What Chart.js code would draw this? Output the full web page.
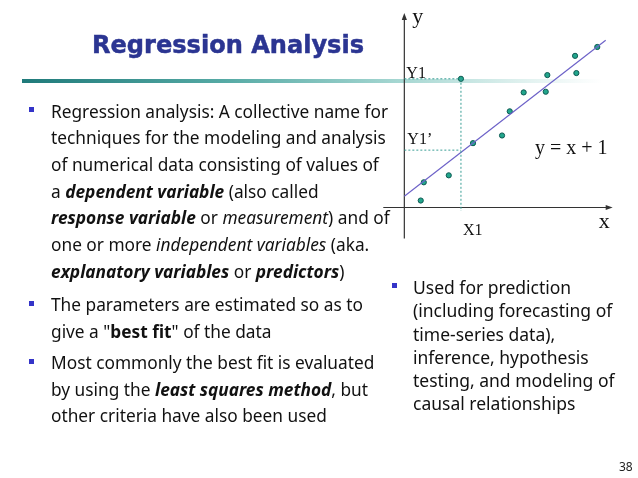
<!DOCTYPE html>
<html>
<head>
<meta charset="utf-8">
<script src="https://cdn.jsdelivr.net/npm/chart.js@4"></script>
<style>
  html, body { margin:0; padding:0; background:#fff; }
  #page { position:relative; width:638px; height:478px; overflow:hidden; background:#fff; }
  #bar { position:absolute; left:22px; top:79px; width:580px; height:3.5px;
         background:linear-gradient(to right, #1f7a7a 0%, #56aaa5 35%, #a6d7d2 65%, #e4f3f1 88%, #ffffff 100%); }
  #chart { position:absolute; left:0; top:0; }
  #title { position:absolute; left:92px; top:32px; font-family:"DejaVu Sans", sans-serif; font-weight:bold;
           font-size:25px; line-height:25px; color:#2b3592; white-space:nowrap; transform-origin:0 0;
           -webkit-text-stroke:0.5px #2b3592; }
  .txt { position:absolute; font-family:"Noto Sans", sans-serif; font-size:17.3px; color:#111; white-space:nowrap; }
  .left { left:51px; line-height:26.7px; }
  .right { left:413px; line-height:23.3px; font-size:17.5px; }
  .bul { position:absolute; width:5px; height:5px; background:#3434c8; }
  #pg { position:absolute; left:619px; top:458px; font-family:"Noto Sans", sans-serif; font-size:12px; color:#222; }
</style>
</head>
<body>
<div id="page">
  <div id="bar"></div>
  <canvas id="chart" width="638" height="478"></canvas>
  <div id="title">Regression Analysis</div>

  <div class="bul" style="left:29px;top:107px"></div>
  <div class="txt left" style="top:98.5px">Regression analysis: A collective name for<br>techniques for the modeling and analysis<br>of numerical data consisting of values of<br>a <b><i>dependent variable</i></b> (also called<br><b><i>response variable</i></b> or <i>measurement</i>) and of<br>one or more <i>independent variables</i> (aka.<br><b><i>explanatory variables</i></b> or <b><i>predictors</i></b>)</div>

  <div class="bul" style="left:29px;top:301px"></div>
  <div class="txt left" style="top:292px">The parameters are estimated so as to<br>give a "<b>best fit</b>" of the data</div>

  <div class="bul" style="left:29px;top:359px"></div>
  <div class="txt left" style="top:350px">Most commonly the best fit is evaluated<br>by using the <b><i>least squares method</i></b>, but<br>other criteria have also been used</div>

  <div class="bul" style="left:392px;top:283px"></div>
  <div class="txt right" style="top:276px">Used for prediction<br>(including forecasting of<br>time-series data),<br>inference, hypothesis<br>testing, and modeling of<br>causal relationships</div>

  <div id="pg">38</div>
</div>
<script>
// ---- data ----
const pointX = [1.13, 1.34, 3.06, 3.90, 4.73, 6.73, 7.26, 8.22, 9.74, 9.85, 11.85, 11.76, 13.29];
const pointY = [0.62, 2.24, 2.86, 11.44, 5.72, 6.40, 8.55, 10.23, 10.29, 11.77, 11.95, 13.48, 14.27];
const fitX = [0, 13.87];
const fitY = [1, 14.87];
const X1 = 3.90;
const Y1 = 11.44;
const Y1p = 5.10;
const axisXRange = [-1.45, 14.35];
const axisYRange = [-2.75, 17.3];
const labels = { y: "y", x: "x", Y1: "Y1", Y1p: "Y1’", X1: "X1", eq: "y = x + 1" };

// fit title width
(function(){
  const t = document.getElementById('title');
  const w = t.getBoundingClientRect().width;
  t.style.transform = 'scaleX(' + (272 / w) + ')';
})();

const zip = (xs, ys) => xs.map((x, i) => ({ x: x, y: ys[i] }));

const axesPlugin = {
  id: 'axesPlugin',
  beforeDatasetsDraw(chart) {
    const ctx = chart.ctx, xs = chart.scales.x, ys = chart.scales.y;
    const x0 = xs.getPixelForValue(0), y0 = ys.getPixelForValue(0);
    const xa = xs.getPixelForValue(axisXRange[0]), xb = xs.getPixelForValue(axisXRange[1]);
    const ya = ys.getPixelForValue(axisYRange[0]), yb = ys.getPixelForValue(axisYRange[1]);
    ctx.save();
    ctx.strokeStyle = '#333'; ctx.fillStyle = '#333'; ctx.lineWidth = 1.2;
    ctx.beginPath(); ctx.moveTo(xa, y0); ctx.lineTo(xb - 4, y0); ctx.stroke();
    ctx.beginPath(); ctx.moveTo(x0, ya); ctx.lineTo(x0, yb + 4); ctx.stroke();
    ctx.beginPath(); ctx.moveTo(xb, y0); ctx.lineTo(xb - 7, y0 - 2.6); ctx.lineTo(xb - 7, y0 + 2.6); ctx.closePath(); ctx.fill();
    ctx.beginPath(); ctx.moveTo(x0, yb); ctx.lineTo(x0 - 2.6, yb + 7); ctx.lineTo(x0 + 2.6, yb + 7); ctx.closePath(); ctx.fill();
    ctx.restore();
  },
  afterDatasetsDraw(chart) {
    const ctx = chart.ctx, xs = chart.scales.x, ys = chart.scales.y;
    const x0 = xs.getPixelForValue(0), y0 = ys.getPixelForValue(0);
    ctx.save();
    ctx.fillStyle = '#111';
    ctx.textBaseline = 'alphabetic';
    ctx.font = '22px "Liberation Serif", serif';
    ctx.fillText(labels.y, x0 + 8, ys.getPixelForValue(axisYRange[1]) + 10);
    ctx.fillText(labels.x, xs.getPixelForValue(axisXRange[1]) - 14, y0 + 20);
    ctx.font = '16px "Liberation Serif", serif';
    ctx.fillText(labels.Y1, x0 + 2, ys.getPixelForValue(Y1) - 1);
    ctx.fillText(labels.Y1p, x0 + 3, ys.getPixelForValue(Y1p) - 6);
    ctx.fillText(labels.X1, xs.getPixelForValue(X1) + 2, y0 + 27);
    ctx.font = '20px "Liberation Serif", serif';
    ctx.fillText(labels.eq, xs.getPixelForValue(9.0), ys.getPixelForValue(4.75));
    ctx.restore();
  }
};

const guideStyle = { type: 'line', borderColor: '#3a9f95', borderWidth: 1, borderDash: [2, 2],
                     pointRadius: 0, fill: false, showLine: true };

new Chart(document.getElementById('chart'), {
  type: 'scatter',
  data: {
    datasets: [
      Object.assign({ data: zip([0, X1], [Y1, Y1]) }, guideStyle),
      Object.assign({ data: zip([X1, X1], [Y1, -0.3]) }, guideStyle),
      Object.assign({ data: zip([0, X1], [Y1p, Y1p]) }, guideStyle),
      { type: 'line', data: zip(fitX, fitY), borderColor: '#6d62c8', borderWidth: 1.2,
        pointRadius: 0, fill: false, showLine: true },
      { data: zip(pointX, pointY), backgroundColor: '#22a68c', borderColor: '#0f5a53',
        borderWidth: 1, pointRadius: 2.6 }
    ]
  },
  options: {
    responsive: false,
    animation: false,
    events: [],
    layout: { padding: { left: 375.3, right: 15.9, top: 3.9, bottom: 225.5 } },
    scales: {
      x: { type: 'linear', min: -2, max: 15, display: false },
      y: { type: 'linear', min: -4, max: 18, display: false }
    },
    plugins: { legend: { display: false }, tooltip: { enabled: false } },
    clip: false
  },
  plugins: [axesPlugin]
});
</script>
</body>
</html>
